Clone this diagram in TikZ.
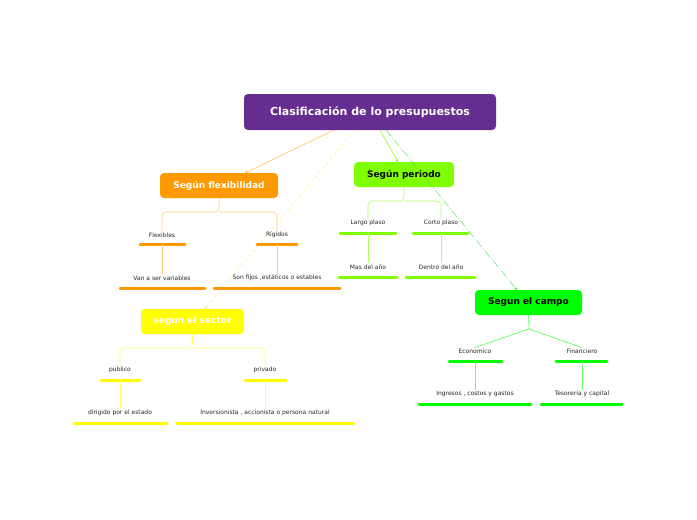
\documentclass[tikz,border=0pt]{standalone}
\usepackage{fontspec}
\setmainfont{DejaVu Sans}
\usetikzlibrary{arrows.meta}
\definecolor{purp}{HTML}{662D91}
\definecolor{ora}{HTML}{FF9900}
\definecolor{lime}{HTML}{80FF00}
\definecolor{grn}{HTML}{00FF00}
\definecolor{yel}{HTML}{FFFF00}
\tikzset{
 mainbox/.style={rounded corners=4pt,inner sep=0pt,font=\bfseries\fontsize{9}{10}\selectfont},
 leaf/.style={font=\fontsize{6}{7}\selectfont,text=black!85,inner sep=1pt},
 bar/.style={line width=3pt,line cap=round},
 tip/.style={-{Stealth[length=3pt,width=3pt]}}
}
\begin{document}
\begin{tikzpicture}[x=1pt,y=-1pt]
\useasboundingbox (0,0) rectangle (697,520);
% main boxes
\node[mainbox,fill=purp,text=white,minimum width=252,minimum height=36,font=\bfseries\fontsize{11}{12}\selectfont] (title) at (370,112) {Clasificación de lo presupuestos};
\node[mainbox,fill=ora,text=white,minimum width=118,minimum height=25] (flex) at (219,185.5) {Según flexibilidad};
\node[mainbox,fill=lime,text=black,minimum width=100,minimum height=25] (per) at (404,174.5) {Según periodo};
\node[mainbox,fill=grn,text=black,minimum width=107,minimum height=25] (campo) at (528.5,302.5) {Segun el campo};
\node[mainbox,fill=yel,text=white,minimum width=103,minimum height=25] (sector) at (192.5,321.5) {segun el sector};
% connectors from title
\coordinate (t1) at (334,130); \coordinate (t2) at (355,130);
\coordinate (t3) at (380,130); \coordinate (t4) at (386,130);
\draw[ora!70,tip,line width=0.5pt] (t1) -- (245,173) coordinate (f1);
\draw[yel!90!black!60,dashed,line width=0.4pt,tip] (t2) -- (205,309) coordinate (s1);
\draw[lime,tip,line width=0.5pt] (t3) -- (398,162) coordinate (p1);
\draw[grn!80!black!70,dash pattern=on 8pt off 2pt on 1pt off 2pt,tip,line width=0.4pt] (t4) -- (517,290) coordinate (c1);
% leaves helper
\newcommand{\leafpair}[9]{%
 % #1 name, #2 x, #3 y text, #4 text, #5 bar x1, #6 bar x2, #7 bar y, #8 color
 \node[leaf] (#1) at (#2,#3) {#4};
 \draw[bar,#8] (#5,#7) -- (#6,#7) coordinate (#1b);
 \coordinate (#1c) at (#2,#7);}
% flexibilidad
\leafpair{fa}{162}{235}{Flexibles}{140}{185}{244}{ora}{}
\leafpair{fb}{277}{235}{Rígidos}{257}{297}{244}{ora}{}
\leafpair{fc}{162}{278}{Van a ser variables}{120}{205}{288}{ora}{}
\leafpair{fd}{277}{278}{Son fijos ,estáticos o estables}{214}{340}{288}{ora}{}
\draw[ora!50,line width=0.6pt,rounded corners=4pt] (flex.south) -- (219,212) -| (fa.north);
\draw[ora!50,line width=0.6pt,rounded corners=4pt] (219,212) -| (fb.north);
\draw[ora!50,line width=0.6pt] (fac) -- (fc.north);
\draw[ora!50,line width=0.6pt] (fbc) -- (fd.north);
% periodo
\leafpair{pa}{368}{223}{Largo plaso}{340}{396}{233}{lime}{}
\leafpair{pb}{441}{223}{Corto plaso}{413}{468}{233}{lime}{}
\leafpair{pc}{368}{267}{Mas del año}{339}{397}{277}{lime}{}
\leafpair{pd}{441}{267}{Dentro del año}{406}{475}{277}{lime}{}
\draw[lime!60,line width=0.6pt,rounded corners=4pt] (per.south) -- (404,201) -| (pa.north);
\draw[lime!60,line width=0.6pt,rounded corners=4pt] (404,201) -| (pb.north);
\draw[lime!60,line width=0.6pt] (pac) -- (pc.north);
\draw[lime!60,line width=0.6pt] (pbc) -- (pd.north);
% campo
\leafpair{ca}{475}{351}{Economico}{449}{502}{361}{grn}{}
\leafpair{cb}{582}{351}{Financiero}{556}{607}{361}{grn}{}
\leafpair{cc}{475}{394}{Ingresos , costos y gastos}{419}{531}{404}{grn}{}
\leafpair{cd}{582}{394}{Tesorería y capital}{541}{622}{404}{grn}{}
\coordinate (cm) at (529,329);
\draw[grn!70,line width=0.6pt] (campo.south) -- (cm) -- (ca.north);
\draw[grn!70,line width=0.6pt] (cm) -- (cb.north);
\draw[grn!60,line width=0.6pt] (cac) -- (cc.north);
\draw[grn!60,line width=0.6pt] (cbc) -- (cd.north);
% sector
\leafpair{sa}{120}{370}{publico}{101}{140}{380}{yel}{}
\leafpair{sb}{265}{370}{privado}{245}{286}{380}{yel}{}
\leafpair{sc}{120}{413}{dirigido por el estado}{74}{167}{423}{yel}{}
\leafpair{sd}{265}{413}{Inversionista , accionista o persona natural}{177}{354}{423}{yel}{}
\draw[yel!60,line width=0.6pt,rounded corners=4pt] (sector.south) -- (192.5,348) -| (sa.north);
\draw[yel!60,line width=0.6pt,rounded corners=4pt] (192.5,348) -| (sb.north);
\draw[yel!60,line width=0.6pt] (sac) -- (sc.north);
\draw[yel!60,line width=0.6pt] (sbc) -- (sd.north);
\end{tikzpicture}
\end{document}
